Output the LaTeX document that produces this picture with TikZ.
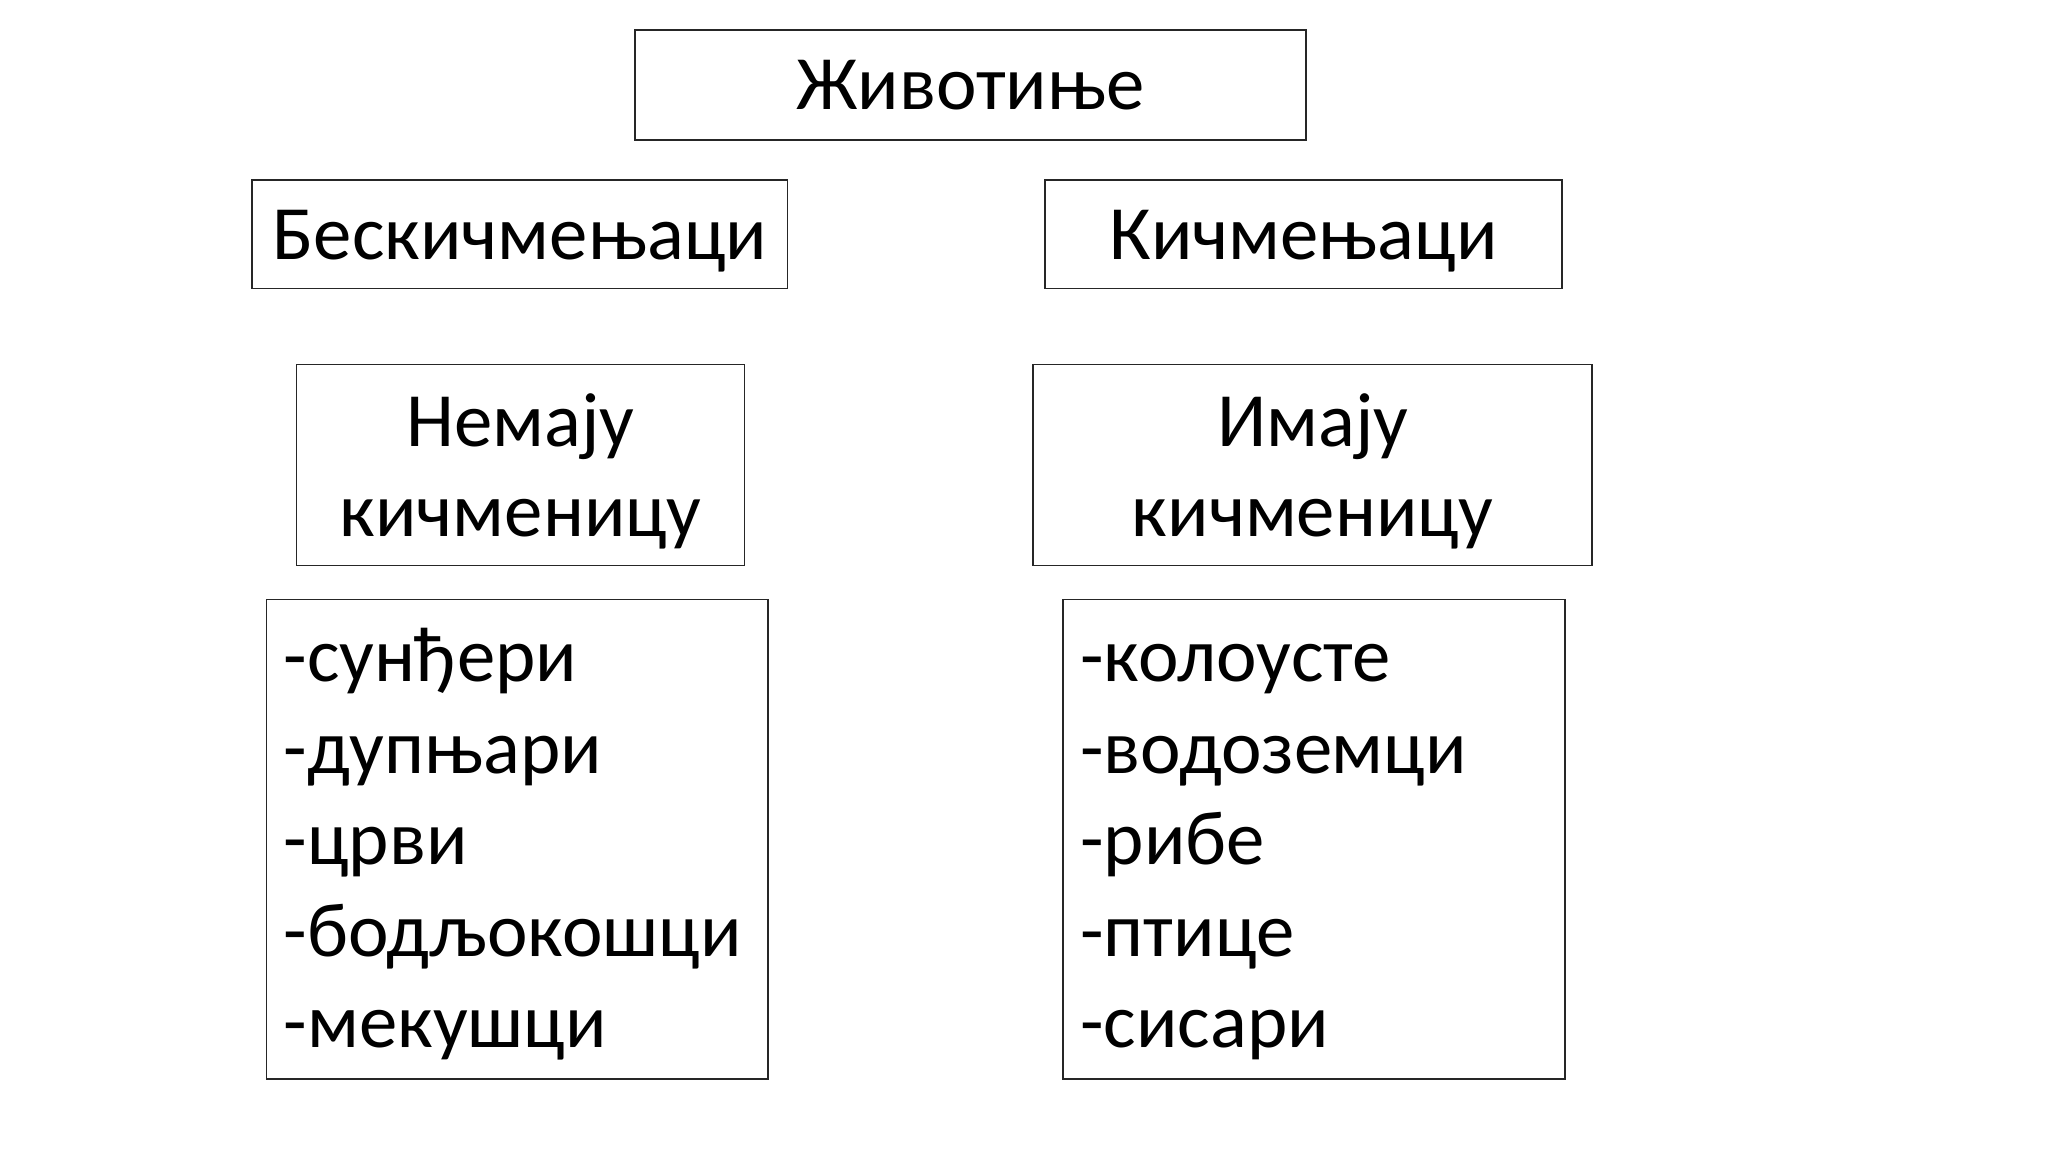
\documentclass[tikz,border=0pt]{standalone}
\usepackage{fontspec}
\setmainfont{Carlito}
\begin{document}
\begin{tikzpicture}[x=0.46875pt,y=-0.46875pt,
  box/.style={draw=black!85,line width=0.8pt,inner sep=0pt,align=center,
    font=\fontsize{36}{42.3}\selectfont},
  onel/.style={box,text height=23.2pt,text depth=0pt},
  twol/.style={box,text depth=0pt},
  listbox/.style={draw=black!85,line width=0.8pt,inner sep=0pt},
  listtext/.style={inner sep=0pt,align=left,anchor=base west,
    font=\fontsize{36}{42.9}\selectfont}]
\path[fill=white,use as bounding box] (0,0) rectangle (2048,1152);
\node[onel,minimum width=314.5pt,minimum height=51.6pt] (animals) at (970.5,84.9) {Животиње};
\node[onel,minimum width=251.0pt,minimum height=50.8pt] (inv) at (519.8,234.4) {Бескичмењаци};
\node[onel,minimum width=242.4pt,minimum height=50.8pt] (vert) at (1303.5,234.4) {Кичмењаци};
\node[twol,minimum width=210pt,minimum height=94.2pt] (nospine) at (520.5,465) {Немају\\кичменицу};
\node[twol,minimum width=262pt,minimum height=94.2pt] (spine) at (1312.6,465) {Имају\\кичменицу};
\node[listbox,minimum width=235.1pt,minimum height=224.7pt] (llist) at (517.2,839.2) {};
\node[listbox,minimum width=235.1pt,minimum height=224.7pt] (rlist) at (1314,839.2) {};
\node[listtext] (ltext) at (283.4,1047.8) {-сунђери\\-дупњари\\-црви\\-бодљокошци\\-мекушци};
\node[listtext] (rtext) at (1080,1047.8) {-колоусте\\-водоземци\\-рибе\\-птице\\-сисари};
\end{tikzpicture}
\end{document}
